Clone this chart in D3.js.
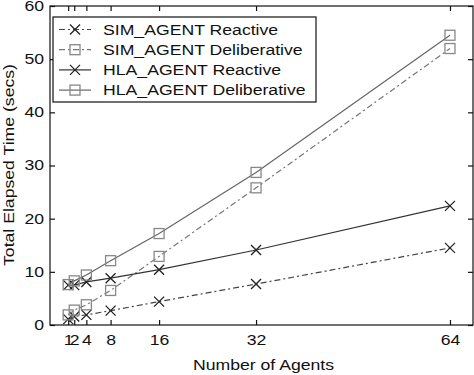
<!DOCTYPE html>
<html>
<head>
<meta charset="utf-8">
<script src="https://cdn.jsdelivr.net/npm/d3@7"></script>
<style>
  body { margin: 0; background: #fff; }
  text { font-family: "Liberation Sans", Arial, sans-serif; fill: #111; }
</style>
</head>
<body>
<div id="chart"></div>
<script>
// data
const agents = [1, 2, 4, 8, 16, 32, 64];
const simReactive = [1.1, 1.6, 1.9, 2.7, 4.4, 7.7, 14.5];
const simDeliberative = [1.9, 2.8, 3.8, 6.5, 12.9, 25.8, 52.0];
const hlaReactive = [7.5, 7.5, 8.1, 8.8, 10.4, 14.1, 22.4];
const hlaDeliberative = [7.6, 8.3, 9.4, 12.1, 17.2, 28.7, 54.5];
const xTicks = [1, 2, 4, 8, 16, 32, 64];
const yTicks = [0, 10, 20, 30, 40, 50, 60];
const seriesNames = ['SIM_AGENT Reactive', 'SIM_AGENT Deliberative', 'HLA_AGENT Reactive', 'HLA_AGENT Deliberative'];

const width = 474;
const height = 375;
const margin = { top: 6, right: 1, bottom: 50, left: 50 };
const fontSize = 14;
const stretch = 1.26; // the original lettering is set wide

const series = [
  { name: seriesNames[0], values: simReactive, marker: 'x', dash: '6,3,2,3', color: '#444' },
  { name: seriesNames[1], values: simDeliberative, marker: 'sq', dash: '6,3,2,3', color: '#777' },
  { name: seriesNames[2], values: hlaReactive, marker: 'x', dash: null, color: '#333' },
  { name: seriesNames[3], values: hlaDeliberative, marker: 'sq', dash: null, color: '#666' }
];

const svg = d3.select('#chart').append('svg')
  .attr('width', width)
  .attr('height', height);

const g = svg.append('g')
  .attr('transform', 'translate(' + margin.left + ',' + margin.top + ')');

const w = width - margin.left - margin.right;
const h = height - margin.top - margin.bottom;

const x = d3.scaleLinear().domain([-2, 67.8]).range([0, w]);
const y = d3.scaleLinear().domain([0, 60]).range([h, 0]);

// frame
g.append('rect')
  .attr('width', w).attr('height', h)
  .attr('fill', 'none').attr('stroke', '#111').attr('stroke-width', 1.2);

// axes, ticks pointing inward like matlab
const xAxis = d3.axisBottom(x).tickValues(xTicks).tickSize(-5).tickPadding(10).tickFormat(d3.format('d'));
const xTop = d3.axisTop(x).tickValues(xTicks).tickSize(-5).tickFormat('');
const yAxis = d3.axisLeft(y).tickValues(yTicks).tickSize(-5).tickPadding(6);
const yRight = d3.axisRight(y).tickValues(yTicks).tickSize(-5).tickFormat('');

g.append('g').attr('transform', 'translate(0,' + h + ')').call(xAxis);
g.append('g').call(xTop);
g.append('g').call(yAxis);
g.append('g').attr('transform', 'translate(' + w + ',0)').call(yRight);

g.selectAll('.domain').remove();
g.selectAll('.tick line').attr('stroke', '#111').attr('stroke-width', 1.2);
g.selectAll('.tick text').attr('font-size', fontSize).attr('fill', '#111').attr('font-family', null);

// axis titles
svg.append('text')
  .attr('x', margin.left + w / 2 + 2)
  .attr('y', 370)
  .attr('text-anchor', 'middle')
  .attr('font-size', fontSize)
  .text('Number of Agents');

svg.append('text')
  .attr('transform', 'translate(14,165) rotate(-90)')
  .attr('text-anchor', 'middle')
  .attr('font-size', fontSize)
  .text('Total Elapsed Time (secs)');

const line = d3.line()
  .x((d, i) => x(agents[i]))
  .y(d => y(d));

function drawMarker(sel, type, cx, cy) {
  if (type === 'sq') {
    sel.append('rect')
      .attr('x', cx - 5).attr('y', cy - 5)
      .attr('width', 10).attr('height', 10)
      .attr('fill', 'none').attr('stroke', '#888').attr('stroke-width', 1.3);
  } else {
    sel.append('path')
      .attr('d', 'M' + (cx - 5) + ',' + (cy - 5) + 'L' + (cx + 5) + ',' + (cy + 5) +
                 'M' + (cx - 5) + ',' + (cy + 5) + 'L' + (cx + 5) + ',' + (cy - 5))
      .attr('stroke', '#222').attr('stroke-width', 1.3).attr('fill', 'none');
  }
}

series.forEach(s => {
  g.append('path')
    .datum(s.values)
    .attr('fill', 'none')
    .attr('stroke', s.color)
    .attr('stroke-width', 1.2)
    .attr('stroke-dasharray', s.dash)
    .attr('d', line);
  const mg = g.append('g');
  s.values.forEach((v, i) => drawMarker(mg, s.marker, x(agents[i]), y(v)));
});

// legend
const leg = svg.append('g').attr('transform', 'translate(53,17)');
leg.append('rect')
  .attr('width', 263).attr('height', 85)
  .attr('fill', '#fff').attr('stroke', '#111').attr('stroke-width', 1.2);

series.forEach((s, i) => {
  const ry = 12.5 + i * 20.2;
  leg.append('line')
    .attr('x1', 6).attr('x2', 38).attr('y1', ry).attr('y2', ry)
    .attr('stroke', s.color).attr('stroke-width', 1.2)
    .attr('stroke-dasharray', s.dash);
  drawMarker(leg, s.marker, 22, ry);
  leg.append('text')
    .attr('x', 50).attr('y', ry + 5)
    .attr('font-size', fontSize)
    .text(s.name);
});

// widen every label the way the original lettering looks
svg.selectAll('text').each(function() {
  const len = this.getComputedTextLength();
  d3.select(this)
    .attr('textLength', len * stretch)
    .attr('lengthAdjust', 'spacingAndGlyphs');
});
</script>
</body>
</html>
